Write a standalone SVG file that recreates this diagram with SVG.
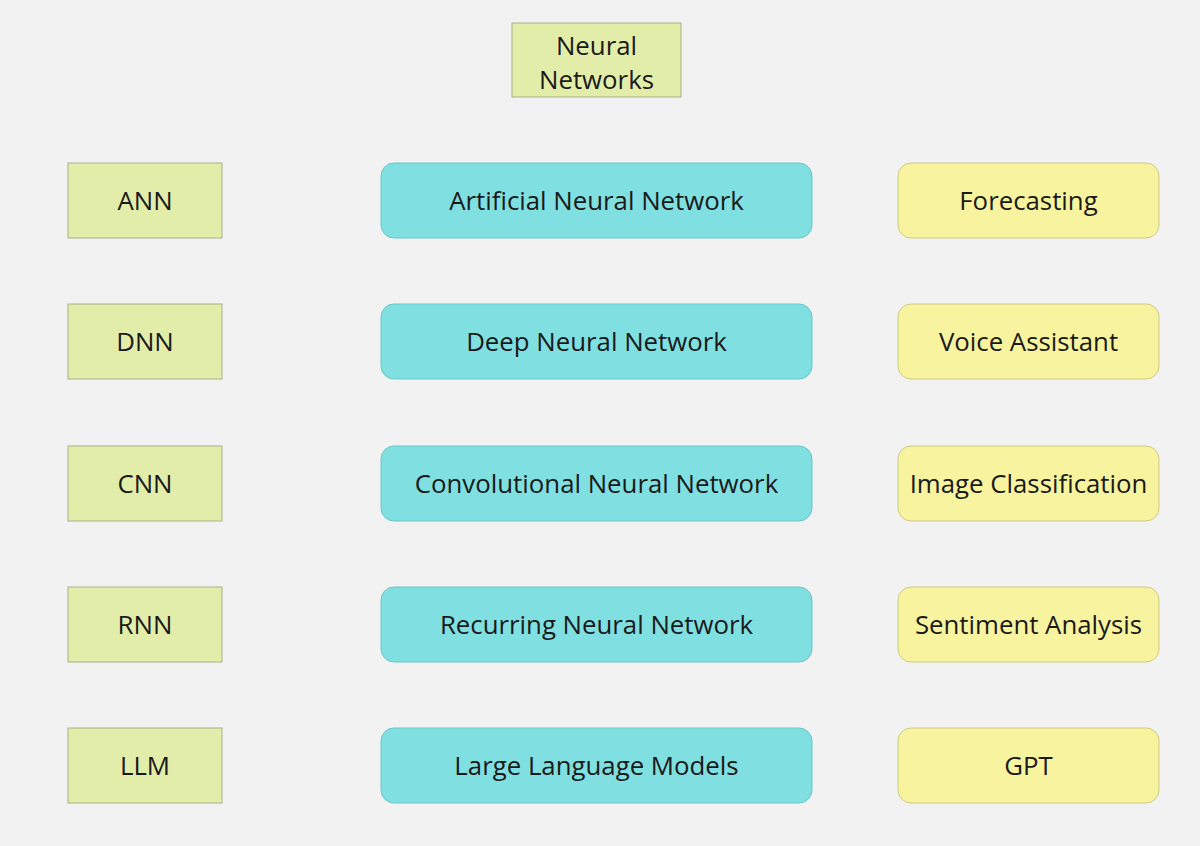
<svg xmlns="http://www.w3.org/2000/svg" width="1200" height="846" viewBox="0 0 1200 846">
<style>
text{font-family:"Open Sans","Liberation Sans",sans-serif;font-size:25.8px;fill:#1a1a1a;text-anchor:middle;dominant-baseline:central}
.g{fill:#e3edaa;stroke:#a9b08a;stroke-width:1}
.c{fill:#80dfe0;stroke:#6cc6c8;stroke-width:1}
.y{fill:#f7f39e;stroke:#cfcb86;stroke-width:1}
</style>
<rect width="1200" height="846" fill="#f2f2f2"/>
<g id="title"><rect class="g" x="512" y="23" width="169" height="74"/><text x="596.5" y="45">Neural</text><text x="596.5" y="79">Networks</text></g>
<g id="connectors"/>
<g id="ann"><rect class="g" x="68" y="163" width="154" height="75"/><text x="145" y="200">ANN</text></g>
<g id="dnn"><rect class="g" x="68" y="304" width="154" height="75"/><text x="145" y="341">DNN</text></g>
<g id="cnn"><rect class="g" x="68" y="446" width="154" height="75"/><text x="145" y="483">CNN</text></g>
<g id="rnn"><rect class="g" x="68" y="587" width="154" height="75"/><text x="145" y="624">RNN</text></g>
<g id="llm"><rect class="g" x="68" y="728" width="154" height="75"/><text x="145" y="765">LLM</text></g>
<g id="ann-full"><rect class="c" x="381" y="163" width="431" height="75" rx="13"/><text x="596.5" y="200">Artificial Neural Network</text></g>
<g id="dnn-full"><rect class="c" x="381" y="304" width="431" height="75" rx="13"/><text x="596.5" y="341">Deep Neural Network</text></g>
<g id="cnn-full"><rect class="c" x="381" y="446" width="431" height="75" rx="13"/><text x="596.5" y="483">Convolutional Neural Network</text></g>
<g id="rnn-full"><rect class="c" x="381" y="587" width="431" height="75" rx="13"/><text x="596.5" y="624">Recurring Neural Network</text></g>
<g id="llm-full"><rect class="c" x="381" y="728" width="431" height="75" rx="13"/><text x="596.5" y="765">Large Language Models</text></g>
<g id="forecasting"><rect class="y" x="898" y="163" width="261" height="75" rx="13"/><text x="1028.5" y="200">Forecasting</text></g>
<g id="voice"><rect class="y" x="898" y="304" width="261" height="75" rx="13"/><text x="1028.5" y="341">Voice Assistant</text></g>
<g id="image"><rect class="y" x="898" y="446" width="261" height="75" rx="13"/><text x="1028.5" y="483">Image Classification</text></g>
<g id="sentiment"><rect class="y" x="898" y="587" width="261" height="75" rx="13"/><text x="1028.5" y="624">Sentiment Analysis</text></g>
<g id="gpt"><rect class="y" x="898" y="728" width="261" height="75" rx="13"/><text x="1028.5" y="765">GPT</text></g>
</svg>
